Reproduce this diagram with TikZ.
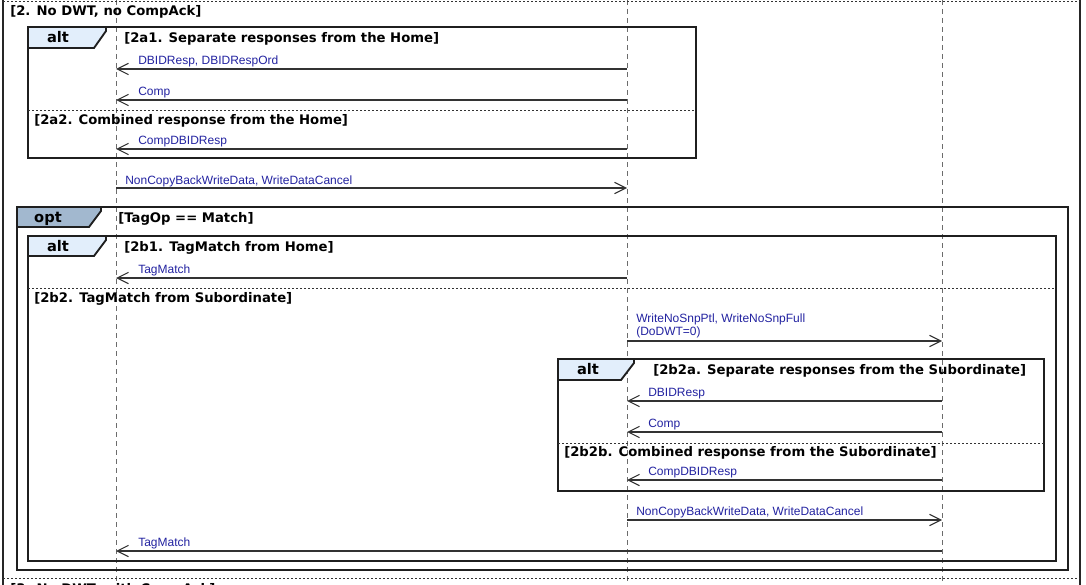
\documentclass[tikz,border=0pt]{standalone}
\usepackage{fontspec}
\setmainfont{DejaVu Sans}
\newfontfamily\msgfont{Liberation Sans}
\usetikzlibrary{arrows.meta}

\definecolor{altfill}{HTML}{E2EEFB}
\definecolor{optfill}{HTML}{A2B8CF}
\definecolor{msgblue}{HTML}{2222A0}
\definecolor{linegray}{HTML}{333333}

\tikzset{
  lifeline/.style={draw=gray!85!black, line width=0.75pt, dash pattern=on 3.75pt off 3pt},
  msg/.style={draw=linegray, line width=0.8pt, -{Straight Barb[length=8.5pt,width=8.5pt,line width=0.8pt]}},
  msglabel/.style={font=\msgfont\fontsize{9}{10}\selectfont, text=msgblue, inner sep=0pt, anchor=base west, align=left},
  guard/.style={font=\bfseries\fontsize{9.9}{12}\selectfont, inner sep=0pt, anchor=west},
  optag/.style={font=\bfseries\fontsize{11}{13}\selectfont, inner sep=0pt},
  fragment/.style={draw=black!88, line width=1.4pt},
  divider/.style={draw=black!80, line width=0.75pt, dash pattern=on 1.5pt off 1.5pt},
}

\begin{document}
\begin{tikzpicture}[x=0.75pt, y=-0.75pt]
  \useasboundingbox (0,0) rectangle (1086,585);

  % Lebenslinien
  \coordinate (rn) at (116,0);
  \coordinate (hn) at (627,0);
  \coordinate (sn) at (942,0);
  \coordinate (bot) at (0,585);
  \foreach \c in {rn,hn,sn}
    \draw[lifeline] (\c) -- (\c |- bot);

  % Gruppe 2 (aeusserer Rahmen)
  \draw[draw=black!85, line width=1.1pt] (3,0) -- (3,585);
  \draw[draw=black!85, line width=1.1pt] (1080,0) -- (1080,585);
  \draw[divider] (3,2) -- (1080,2);
  \draw[divider] (3,578) -- (1080,578);
  \node[guard] (g2) at (10,12) {[2. No DWT, no CompAck]};
  \node[guard] (g3) at (10,590) {[3. No DWT, with CompAck]};

  % alt 2a
  \draw[fragment] (28,27) rectangle (696,158);
  \draw[fragment, fill=altfill] (28,27) -- (106,27) -- (106,31) -- (94,48) -- (28,48) -- cycle;
  \node[optag] (alt1) at (58,37.5) {alt};
  \node[guard] (g2a1) at (124,38.5) {[2a1. Separate responses from the Home]};
  \coordinate (m1) at (0,69);
  \draw[msg] (m1 -| hn) -- (m1 -| rn);
  \node[msglabel] (l1) at (138,64.5) {DBIDResp, DBIDRespOrd};
  \coordinate (m2) at (0,100);
  \draw[msg] (m2 -| hn) -- (m2 -| rn);
  \node[msglabel] (l2) at (138,95.5) {Comp};
  \draw[divider] (28,111) -- (696,111);
  \node[guard] (g2a2) at (34,120.5) {[2a2. Combined response from the Home]};
  \coordinate (m3) at (0,149);
  \draw[msg] (m3 -| hn) -- (m3 -| rn);
  \node[msglabel] (l3) at (138,144.5) {CompDBIDResp};

  % Daten an Home
  \coordinate (m4) at (0,188);
  \draw[msg] (m4 -| rn) -- (m4 -| hn);
  \node[msglabel] (l4) at (125,184) {NonCopyBackWriteData, WriteDataCancel};

  % opt TagOp
  \draw[fragment] (17,207) rectangle (1068,570);
  \draw[fragment, fill=optfill] (17,207) -- (101,207) -- (101,211) -- (89,227) -- (17,227) -- cycle;
  \node[optag] (opt1) at (48,219) {opt};
  \node[guard] (gopt) at (118,218.5) {[TagOp == Match]};

  % alt 2b
  \draw[fragment] (28,236) rectangle (1056,561);
  \draw[fragment, fill=altfill] (28,236) -- (106,236) -- (106,240) -- (94,256) -- (28,256) -- cycle;
  \node[optag] (alt2) at (58,246.5) {alt};
  \node[guard] (g2b1) at (124,247.5) {[2b1. TagMatch from Home]};
  \coordinate (m5) at (0,278);
  \draw[msg] (m5 -| hn) -- (m5 -| rn);
  \node[msglabel] (l5) at (138,273.5) {TagMatch};
  \draw[divider] (28,288) -- (1056,288);
  \node[guard] (g2b2) at (34,298.5) {[2b2. TagMatch from Subordinate]};
  \coordinate (m6) at (0,341);
  \draw[msg] (m6 -| hn) -- (m6 -| sn);
  \node[msglabel] (l6) at (636,335.5) {WriteNoSnpPtl, WriteNoSnpFull\\(DoDWT=0)};

  % alt 2b2 (Subordinate)
  \draw[fragment] (558,359) rectangle (1044,491);
  \draw[fragment, fill=altfill] (558,359) -- (634,359) -- (634,363) -- (621,380) -- (558,380) -- cycle;
  \node[optag] (alt3) at (588,369.5) {alt};
  \node[guard] (g2b2a) at (653,370.5) {[2b2a. Separate responses from the Subordinate]};
  \coordinate (m7) at (0,401);
  \draw[msg] (m7 -| sn) -- (m7 -| hn);
  \node[msglabel] (l7) at (648,396.5) {DBIDResp};
  \coordinate (m8) at (0,432);
  \draw[msg] (m8 -| sn) -- (m8 -| hn);
  \node[msglabel] (l8) at (648,427.5) {Comp};
  \draw[divider] (558,443) -- (1044,443);
  \node[guard] (g2b2b) at (564,452.5) {[2b2b. Combined response from the Subordinate]};
  \coordinate (m9) at (0,480);
  \draw[msg] (m9 -| sn) -- (m9 -| hn);
  \node[msglabel] (l9) at (648,475.5) {CompDBIDResp};

  % Daten an Subordinate, TagMatch zurueck
  \coordinate (m10) at (0,520);
  \draw[msg] (m10 -| hn) -- (m10 -| sn);
  \node[msglabel] (l10) at (636,515.5) {NonCopyBackWriteData, WriteDataCancel};
  \coordinate (m11) at (0,551);
  \draw[msg] (m11 -| sn) -- (m11 -| rn);
  \node[msglabel] (l11) at (138,546.5) {TagMatch};
\end{tikzpicture}
\end{document}
